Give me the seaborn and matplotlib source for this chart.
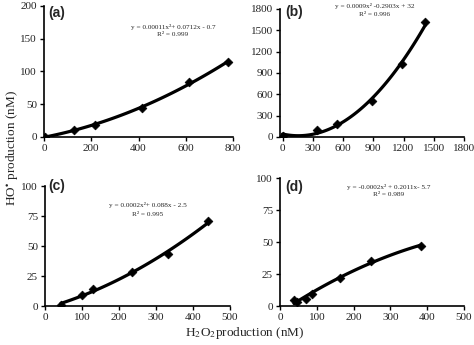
import matplotlib
matplotlib.use("Agg")
import matplotlib.pyplot as plt
import seaborn as sns
import numpy as np
import pandas as pd

sns.set_theme(style="ticks")
plt.rcParams['font.family'] = ['Liberation Serif', 'DejaVu Serif']
plt.rcParams['mathtext.fontset'] = 'stix'

# ---- data ----
a_x = [4, 126, 217, 415, 612, 780]
a_y = [0.5, 10, 19, 44, 84, 114]
b_x = [0, 340, 544, 884, 1190, 1418]
b_y = [12, 104, 179, 505, 1028, 1613]
c_x = [43, 99, 130, 236, 333, 441]
c_y = [0.5, 9, 14.5, 28, 43.5, 70.5]
d_x = [38, 45, 71, 87, 163, 247, 383]
d_y = [5, 3, 5.5, 9, 22, 35.5, 47]

panel_labels = ["(a)", "(b)", "(c)", "(d)"]
equations = ["y = 0.00011x\u00b2+ 0.0712x - 0.7",
             "y = 0.0009x\u00b2 -0.2903x + 32",
             "y = 0.0002x\u00b2+ 0.088x - 2.5",
             "y = -0.0002x\u00b2 + 0.2011x- 5.7"]
r2_texts = ["R\u00b2 = 0.999", "R\u00b2 = 0.996", "R\u00b2 = 0.995", "R\u00b2 = 0.989"]

a_xticks = [0, 200, 400, 600, 800]; a_yticks = [0, 50, 100, 150, 200]
b_xticks = [0, 300, 600, 900, 1200, 1500, 1800]; b_yticks = [0, 300, 600, 900, 1200, 1500, 1800]
c_xticks = [0, 100, 200, 300, 400, 500]; c_yticks = [0, 25, 50, 75, 100]
d_xticks = [0, 100, 200, 300, 400, 500]; d_yticks = [0, 25, 50, 75, 100]

W, H = 474, 345
fig = plt.figure(figsize=(W / 100, H / 100), dpi=100)

def rect(l, r, t, b):
    return [l / W, (H - b) / H, (r - l) / W, (b - t) / H]

panels = [
    dict(r=rect(44, 233, 6, 137), x=a_x, y=a_y, xt=a_xticks, yt=a_yticks, xl=(0, 800), yl=(0, 200),
         lab=(48, 13), eq=(173, 27), r2=(173, 35)),
    dict(r=rect(280, 464, 9, 137), x=b_x, y=b_y, xt=b_xticks, yt=b_yticks, xl=(-25, 1800), yl=(0, 1800),
         lab=(285, 12), eq=(375, 6), r2=(375, 14)),
    dict(r=rect(45, 230, 186, 306), x=c_x, y=c_y, xt=c_xticks, yt=c_yticks, xl=(0, 500), yl=(0, 100),
         lab=(48, 186), eq=(148, 205), r2=(148, 214)),
    dict(r=rect(280, 464, 178, 306), x=d_x, y=d_y, xt=d_xticks, yt=d_yticks, xl=(0, 500), yl=(0, 100),
         lab=(285, 187), eq=(389, 187), r2=(389, 195)),
]

for i, p in enumerate(panels):
    ax = fig.add_axes(p['r'])
    df = pd.DataFrame({'x': p['x'], 'y': p['y']})
    sns.regplot(data=df, x='x', y='y', order=2, ci=None, scatter=False, ax=ax,
                line_kws=dict(color='black', lw=2.3))
    sns.scatterplot(data=df, x='x', y='y', marker='D', color='black', s=20,
                    edgecolor='black', linewidth=0.5, ax=ax, zorder=3)
    ax.set_xlim(*p['xl']); ax.set_ylim(*p['yl'])
    ax.set_xticks(p['xt']); ax.set_yticks(p['yt'])
    ax.set_xlabel(''); ax.set_ylabel('')
    sns.despine(ax=ax)
    for s in ['left', 'bottom']:
        ax.spines[s].set_linewidth(1.2)
        ax.spines[s].set_color('black')
    ax.tick_params(direction='out', length=3, width=1, labelsize=8, pad=2, colors='black')
    for lbl in ax.get_xticklabels() + ax.get_yticklabels():
        lbl.set_color('#222222')
    ax.patch.set_alpha(0)
    fig.text(p['lab'][0] / W, 1 - p['lab'][1] / H, panel_labels[i], fontsize=10,
             fontweight='bold', family=['Liberation Sans'], va='center', ha='left')
    fig.text(p['eq'][0] / W, 1 - p['eq'][1] / H, equations[i], fontsize=5.2, ha='center', va='center')
    fig.text(p['r2'][0] / W, 1 - p['r2'][1] / H, r2_texts[i], fontsize=5.2, ha='center', va='center')

fig.text(12 / W, 1 - 148 / H, r'HO$^{\bullet}$ production (nM)', rotation=90, fontsize=9.5,
         ha='center', va='center')
fig.text(245 / W, 1 - 333 / H, r'H$_2$O$_2$production (nM)', fontsize=9.5, ha='center', va='center')

fig.savefig('out.png', dpi=100, facecolor='white')
